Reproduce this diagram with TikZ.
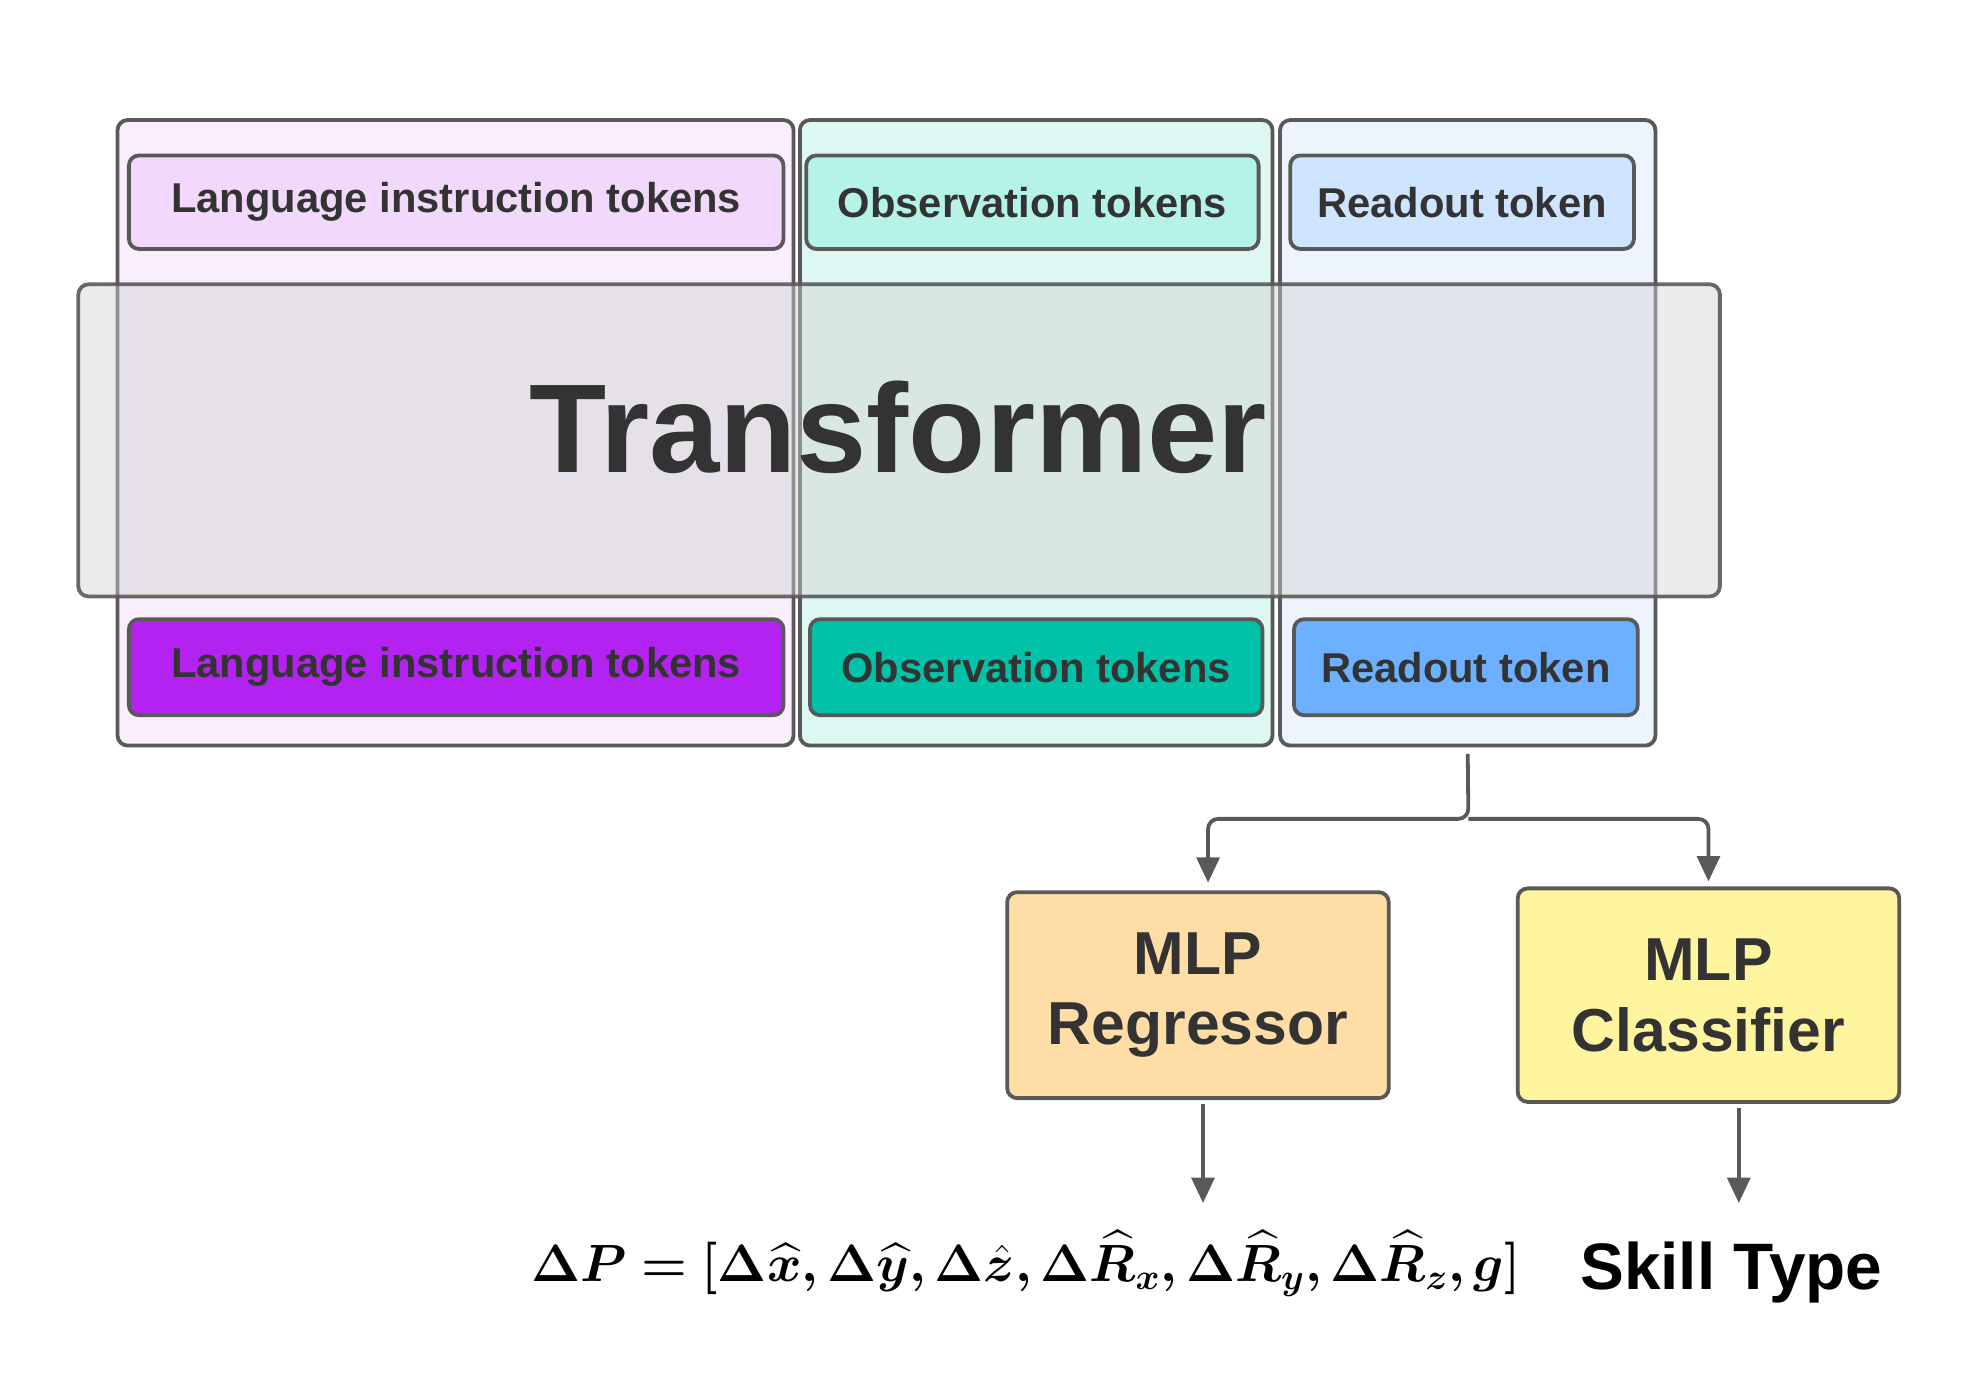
\documentclass[tikz,border=0pt]{standalone}
\usepackage{amsmath,bm}
\usepackage{fontspec}
\setmainfont{Liberation Sans}
\usetikzlibrary{arrows.meta}
\definecolor{bd}{HTML}{595959}
\definecolor{tx}{HTML}{333333}
\definecolor{c1}{HTML}{F8EEFC}
\definecolor{c2}{HTML}{DDF8F3}
\definecolor{c3}{HTML}{EEF4FE}
\definecolor{t1}{HTML}{F2D9FC}
\definecolor{t2}{HTML}{B5F2E8}
\definecolor{t3}{HTML}{CFE4FF}
\definecolor{b1}{HTML}{B322F0}
\definecolor{b2}{HTML}{00C2A8}
\definecolor{b3}{HTML}{6DB0FF}
\definecolor{m1}{HTML}{FFDDA6}
\definecolor{m2}{HTML}{FFF59E}
\newcommand\mybox[7]{%
  \pgfmathsetmacro\bw{(#4-#2)*0.5}\pgfmathsetmacro\bh{(#5-#3)*0.5}%
  \node[#6,minimum width=\bw pt,minimum height=\bh pt,inner sep=0pt] (#1) at ({(#2+#4)/2},{(#3+#5)/2}) {#7};}
\begin{document}
\begin{tikzpicture}[x=0.5pt,y=-0.5pt,
  frame/.style={draw=bd,line width=1.5pt,rounded corners=4pt},
  tok/.style={frame,font=\bfseries\fontsize{16.5}{20}\selectfont,text=tx},
  mlp/.style={frame,font=\bfseries\fontsize{24}{28}\selectfont,text=tx,align=center},
  arr/.style={draw=bd,line width=1.5pt,-{Triangle[length=10pt,width=9pt]},rounded corners=4pt}]
\useasboundingbox (0,0) rectangle (1555,1098);
% column frames
\mybox{fl}{93}{95}{628}{590}{frame,fill=c1}{}
\mybox{fo}{633}{95}{1007}{590}{frame,fill=c2}{}
\mybox{fr}{1013}{95}{1310}{590}{frame,fill=c3}{}
% top tokens
\mybox{tl}{102}{123}{620}{197}{tok,fill=t1}{Language instruction tokens}
\mybox{to}{638}{123}{996}{197}{tok,fill=t2}{Observation tokens}
\mybox{tr}{1021}{123}{1293}{197}{tok,fill=t3}{Readout token}
% transformer
\mybox{tf}{62}{225}{1361}{472}{draw=bd,line width=1.5pt,rounded corners=4pt,fill=gray!35,fill opacity=0.45,draw opacity=0.9}{}
\node[font=\bfseries\fontsize{50}{58}\selectfont,text=tx] (tft) at (711,338) {Transformer};
% bottom tokens
\mybox{bl}{102}{490}{620}{566}{tok,fill=b1}{Language instruction tokens}
\mybox{bo}{641}{490}{999}{566}{tok,fill=b2}{Observation tokens}
\mybox{br}{1024}{490}{1296}{566}{tok,fill=b3}{Readout token}
% MLPs
\mybox{reg}{797}{706}{1099}{869}{mlp,fill=m1}{MLP\\Regressor}
\mybox{cls}{1201}{703}{1503}{872}{mlp,fill=m2}{MLP\\Classifier}
% outputs
\node[font=\fontsize{22}{26}\selectfont] (dp) at (812,1000) {$\bm{\Delta P = [\Delta\widehat{x},\Delta\widehat{y},\Delta\hat{z},\Delta\widehat{R}_x,\Delta\widehat{R}_y,\Delta\widehat{R}_z,g]}$};
\node[font=\bfseries\fontsize{26}{30}\selectfont] (sk) at (1370,1007) {Skill Type};
% connectors
\coordinate (j) at (1162,648);
\draw[arr] ([yshift=-2.5pt]fr.south) -- (j) -| ([xshift=4pt,yshift=3pt]reg.north);
\draw[arr] (j) -| ([yshift=2pt]cls.north);
\draw[arr] ([xshift=2pt,yshift=-1.5pt]reg.south) -- ([xshift=2pt]reg.south |- 0,952);
\draw[arr] ([xshift=12pt,yshift=-1.5pt]cls.south) -- ([xshift=12pt]cls.south |- 0,952);
\end{tikzpicture}
\end{document}
